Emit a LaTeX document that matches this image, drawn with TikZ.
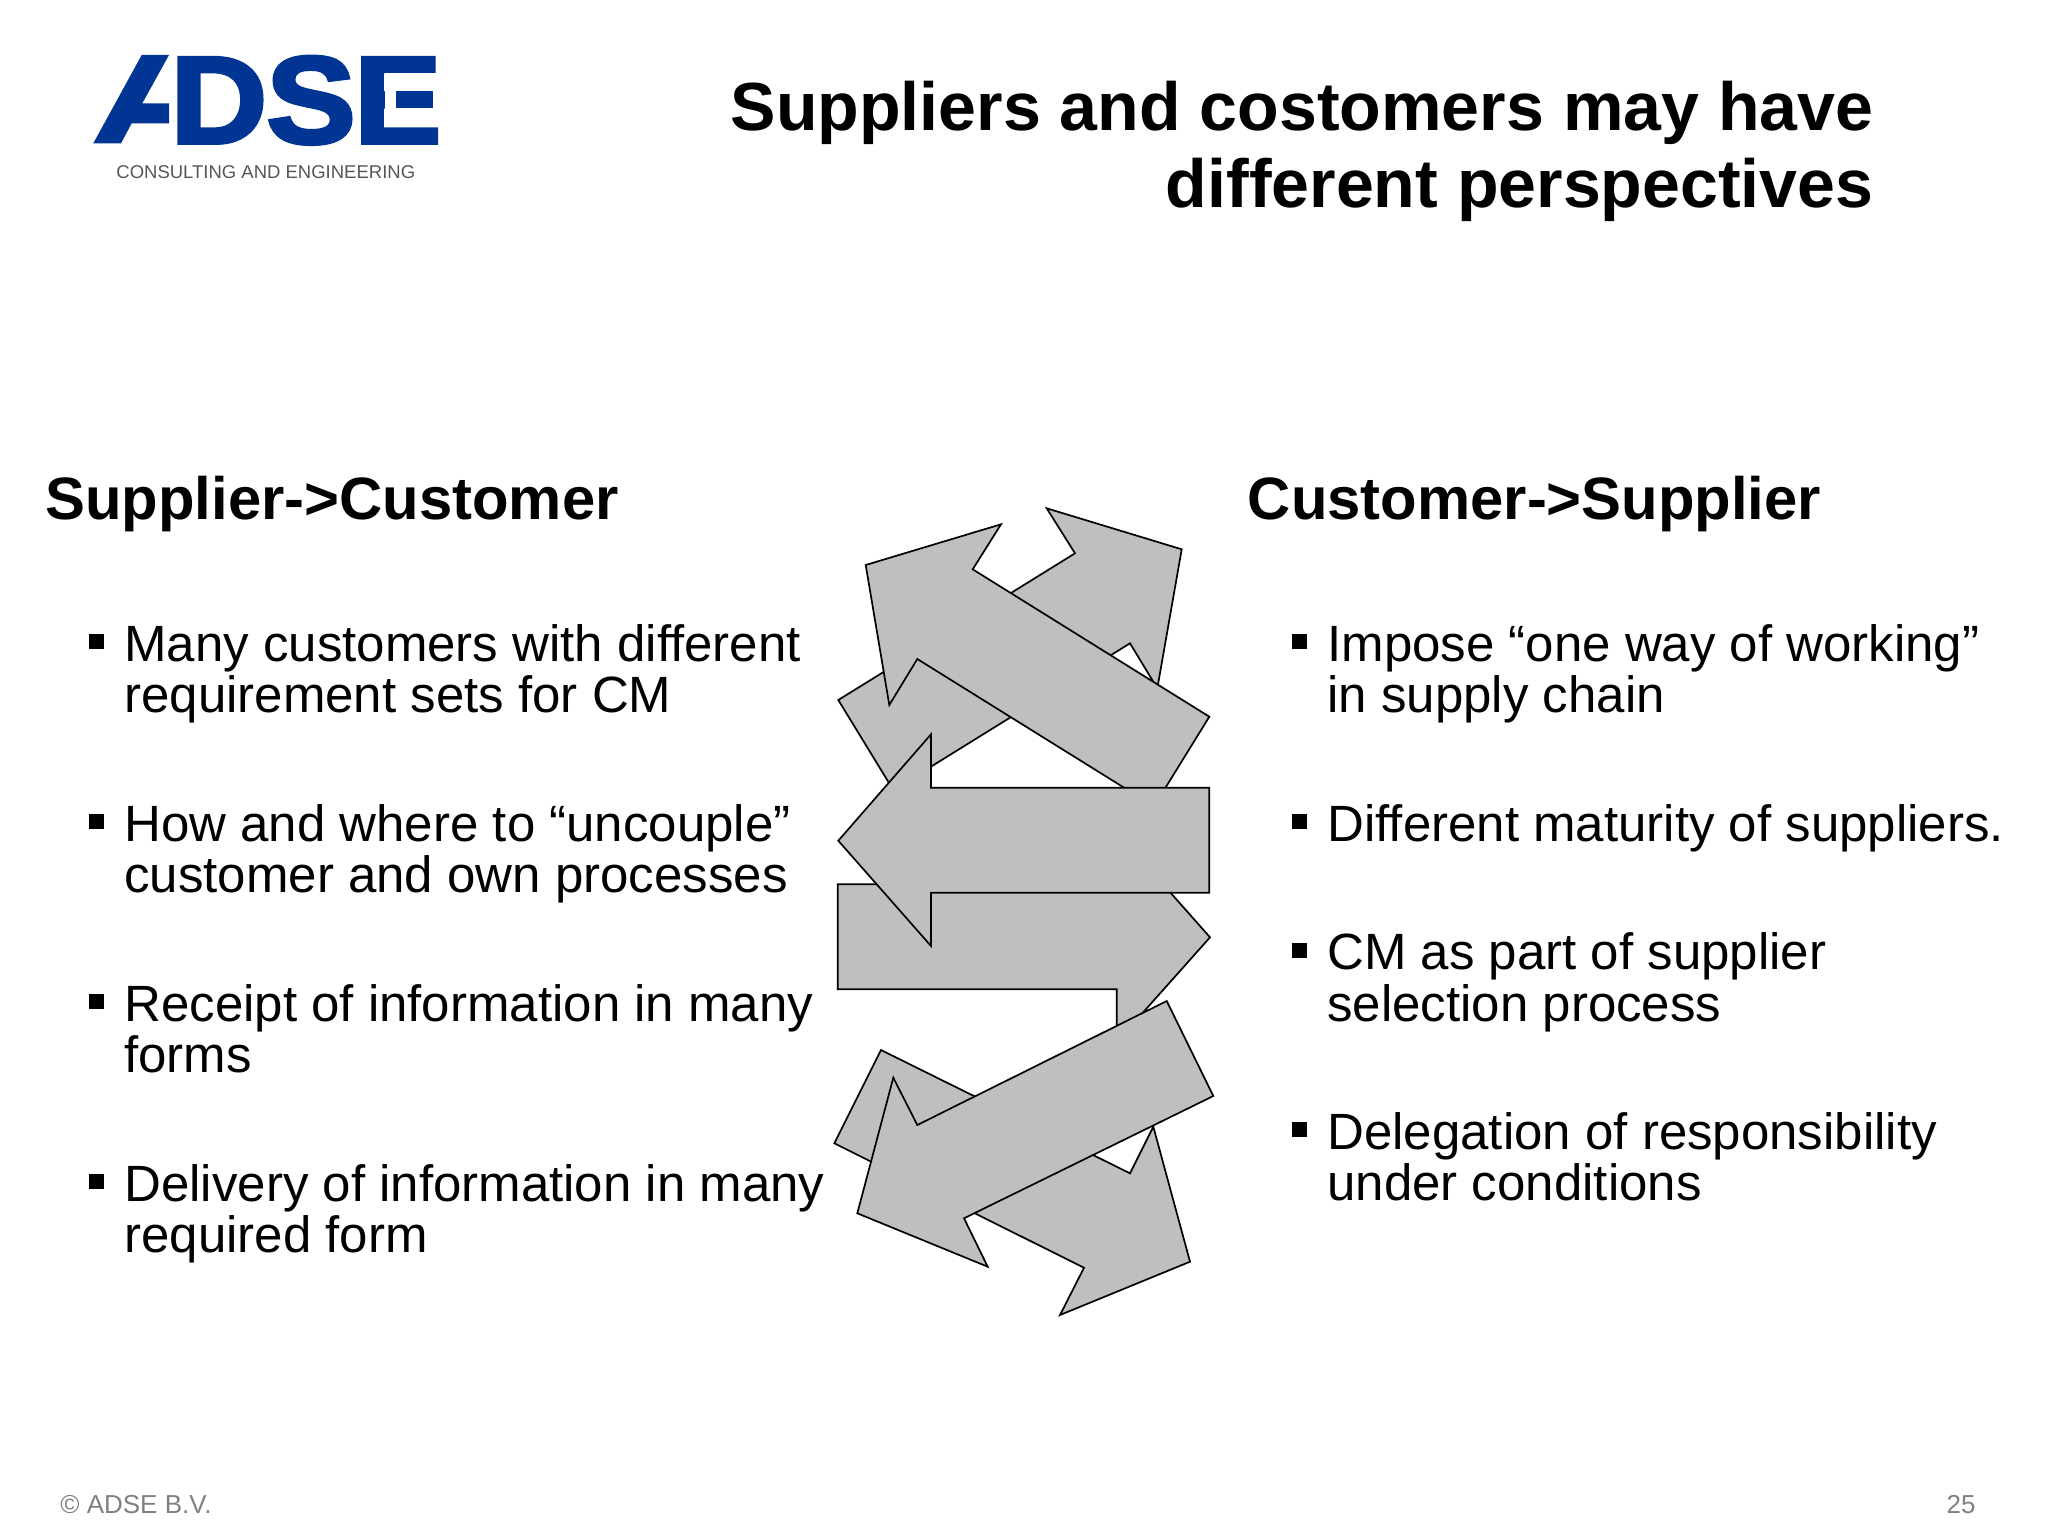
\documentclass[tikz,border=0pt]{standalone}
\usepackage{fontspec}
\setmainfont[Ligatures=NoCommon]{Liberation Sans}
\newfontfamily\logofont[FakeBold=3]{Liberation Sans Bold}
\usepackage{tikz}
\usetikzlibrary{positioning, calc}
\definecolor{adseBlue}{RGB}{0, 53, 148}
\definecolor{arrowBg}{RGB}{192, 190, 193}
\definecolor{footGray}{RGB}{128, 128, 128}
\definecolor{tagGray}{RGB}{85, 85, 85}
\tikzstyle{bigarrow} = [draw=black, fill=arrowBg, line width=0.85pt, line join=miter]
\tikzstyle{titletext} = [inner sep=0pt, align=right, font=\fontsize{34.05}{38.5}\selectfont\bfseries]
\tikzstyle{headtext} = [inner sep=0pt, anchor=base west, font=\fontsize{29.9}{34}\selectfont\bfseries]
\tikzstyle{bodytext} = [inner sep=0pt, anchor=north west, align=left, font=\fontsize{25.5}{25.8}\selectfont]
\tikzstyle{bulletbox} = [fill=black, inner sep=0pt, minimum size=7.5pt, anchor=north west, xshift=-17.5pt, yshift=-5pt]
\tikzstyle{foottext} = [inner sep=0pt, text=footGray, font=\fontsize{13}{14}\selectfont]
\tikzstyle{logotext} = [inner sep=0pt, anchor=base west, text=adseBlue, font=\fontsize{62}{62}\selectfont\logofont]

\begin{document}
\begin{tikzpicture}[x=0.5pt, y=-0.5pt]
\useasboundingbox (0,0) rectangle (2048,1536);

% logo
\node (logoA) [logotext, font=\fontsize{54}{54}\selectfont\logofont] at (96,143) {A};
\fill [white] (85,50) -- (180,50) -- (176,146) -- (85,146) -- cycle;
\fill [adseBlue] (93.3,143.3) -- (141.7,55) -- (169,55) -- (142.3,103.3) -- (169,103.3) -- (169,123.3) -- (131.7,123.3) -- (121,143.3) -- cycle;
\node (logoD) [logotext, xscale=1.08, transform shape] at (170,143) {D};
\node (logoS) [logotext, xscale=1.08, transform shape] at (266,143) {S};
\node (logoE) [logotext, xscale=1.05, transform shape] at (354,143) {E};
\fill [white] (385,73.3) rectangle (445,124);
\fill [adseBlue] (396,90.7) rectangle (433,108);
\node (tag) [inner sep=0pt, anchor=base west, text=tagGray, font=\fontsize{9.25}{10}\selectfont] at (116,178) {CONSULTING AND ENGINEERING};

\node (title) [titletext, anchor=north east] at (1874,81) {Suppliers and costomers may have\\different perspectives};

\node (headL) [headtext] at (45,519) {Supplier->Customer};
\node (headR) [headtext] at (1247.5,519) {Customer->Supplier};

% left column
\node (left0) [bodytext] at (124,624) {Many customers with different\\requirement sets for CM};
\node (left1) [bodytext] at (124,804) {How and where to “uncouple”\\customer and own processes};
\node (left2) [bodytext] at (124,984) {Receipt of information in many\\forms};
\node (left3) [bodytext] at (124,1164) {Delivery of information in many\\required form};
\foreach \i in {0,...,3}
    \node (bulletL\i) [bulletbox] at(left\i.north west) {};

% right column
\node (right0) [bodytext] at (1327,624) {Impose “one way of working”\\in supply chain};
\node (right1) [bodytext] at (1327,804) {Different maturity of suppliers.};
\node (right2) [bodytext] at (1327,932.5) {CM as part of supplier\\selection process};
\node (right3) [bodytext] at (1327,1112) {Delegation of responsibility\\under conditions};
\foreach \i in {0,...,3}
    \node (bulletR\i) [bulletbox] at(right\i.north west) {};

% arrows, back to front
\draw [bigarrow] (838.3,700) -- (1075,553.3) -- (1046.7,508.3) -- (1181.7,549.3) -- (1157.3,688.3) -- (1130,643.3) -- (893.3,790) -- cycle;
\draw [bigarrow] (1209.3,716.7) -- (972.7,569.3) -- (1001,524.3) -- (865.7,565) -- (889.3,705) -- (917.3,659) -- (1154,806.3) -- cycle;
\draw [bigarrow] (837.7,884.3) -- (1116.7,884.3) -- (1116.7,832) -- (1210,937.3) -- (1116.7,1042) -- (1116.7,989.3) -- (837.7,989.3) -- cycle;
\draw [bigarrow] (1209.3,787.7) -- (931,787.7) -- (931,734.3) -- (838.3,840.7) -- (931,946) -- (931,892.7) -- (1209.3,892.7) -- cycle;
\draw [bigarrow] (881,1050) -- (1130,1173.3) -- (1153.3,1126.7) -- (1190,1261.7) -- (1060,1315) -- (1084,1267.7) -- (834.3,1143.3) -- cycle;
\draw [bigarrow] (1166.7,1001) -- (917.3,1125) -- (893.3,1077.7) -- (857.3,1213.3) -- (987.7,1266.7) -- (964,1218.3) -- (1213.3,1096) -- cycle;

\node (copyright) [foottext, anchor=base west] at (60,1513) {© ADSE B.V.};
\node (pagenum) [foottext, anchor=base east] at (1976,1513) {25};
\end{tikzpicture}
\end{document}
